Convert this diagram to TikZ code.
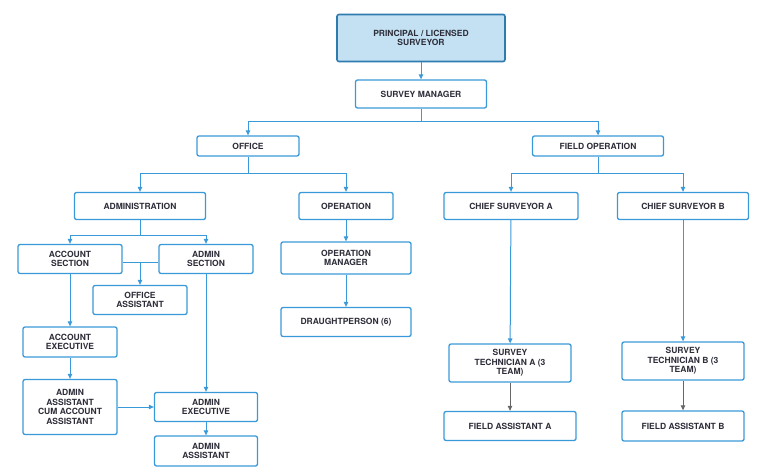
\documentclass[tikz,border=0pt]{standalone}
\usepackage{fontspec}
\setmainfont{TeX Gyre Heros}
\usetikzlibrary{arrows.meta}
\definecolor{bl}{HTML}{3A9AD9}
\definecolor{txt}{HTML}{2E2E3A}
\begin{document}
\begin{tikzpicture}[x=1pt,y=-1pt,
  box/.style={draw=bl,line width=1.3pt,rounded corners=2pt,fill=white,align=center,
    font=\fontsize{8.5}{9.5}\selectfont\bfseries,text=txt,inner sep=1pt},
  ar/.style={draw=bl,line width=1pt,-{Triangle[length=5pt,width=4.5pt]}},
  ln/.style={draw=bl,line width=1pt},
  gr/.style={draw=gray!80!black,line width=1pt,-{Triangle[length=5pt,width=4.5pt]}}]
\useasboundingbox (0,0) rectangle (768,473);
\newcommand\bx[6]{\node[box,minimum width=#4,minimum height=#5] (#1) at (#2,#3) {#6};}
\node[box,fill=bl!30,draw=bl!80!black,line width=1.6pt,minimum width=168,minimum height=47] (p) at (421,38) {PRINCIPAL / LICENSED\\SURVEYOR};
\bx{sm}{421}{94}{131}{28}{SURVEY MANAGER}
\bx{of}{248}{146}{102}{20}{OFFICE}
\bx{fo}{598}{146}{131}{20}{FIELD OPERATION}
\bx{ad}{140}{206}{131}{27}{ADMINISTRATION}
\bx{op}{346}{206}{94}{27}{OPERATION}
\bx{ca}{511}{206}{134}{27}{CHIEF SURVEYOR A}
\bx{cb}{683}{206}{131}{27}{CHIEF SURVEYOR B}
\bx{as}{70}{259}{104}{29}{ACCOUNT\\SECTION}
\bx{ms}{206}{259}{94}{29}{ADMIN\\SECTION}
\bx{oa}{140}{300}{94}{29}{OFFICE\\ASSISTANT}
\bx{om}{346}{258}{130}{32}{OPERATION\\MANAGER}
\bx{dp}{346}{322}{130}{29}{DRAUGHTPERSON (6)}
\bx{ae}{70}{342}{94}{30}{ACCOUNT\\EXECUTIVE}
\bx{ac}{70}{407}{94}{55}{ADMIN\\ASSISTANT\\CUM ACCOUNT\\ASSISTANT}
\bx{me}{206}{407}{103}{29}{ADMIN\\EXECUTIVE}
\bx{ma}{206}{451}{103}{30}{ADMIN\\ASSISTANT}
\bx{ta}{510}{363}{122}{38}{SURVEY\\TECHNICIAN A (3\\TEAM)}
\bx{fa}{510}{426}{132}{29}{FIELD ASSISTANT A}
\bx{tb}{683}{361}{122}{38}{SURVEY\\TECHNICIAN B (3\\TEAM)}
\bx{fb}{683}{426}{122}{30}{FIELD ASSISTANT B}
\coordinate (b1) at (421,122);
\coordinate (b2) at (248,174);
\coordinate (b3) at (598,174);
\coordinate (b4) at (140,235);
\coordinate (b5) at (140,262);
\draw[ar] (p) -- (sm);
\draw[ln] (sm) -- (b1);
\draw[ar] (b1) -| (of);
\draw[ar] (b1) -| (fo);
\draw[ln] (of) -- (b2);
\draw[ar] (b2) -| (ad);
\draw[ar] (b2) -| (op);
\draw[ln] (fo) -- (b3);
\draw[ar] (b3) -| (ca);
\draw[ar] (b3) -| (cb);
\draw[ln] (ad) -- (b4);
\draw[ar] (b4) -| (as);
\draw[ar] (b4) -| (ms);
\draw[ln] (as.east |- b5) -- (ms.west |- b5);
\draw[ar] (b5) -- (oa);
\draw[ar] (op) -- (om);
\draw[ar] (om) -- (dp);
\draw[ar] (as) -- (ae);
\draw[ar] (ae) -- (ac);
\draw[ar] (ms) -- (me);
\draw[ar] (ac.east |- me) -- (me);
\draw[ar] (me) -- (ma);
\draw[ar] (ca) -- (ta);
\draw[ar] (cb) -- (tb);
\draw[gr] (ta) -- (fa);
\draw[gr] (tb) -- (fb);
\end{tikzpicture}
\end{document}
